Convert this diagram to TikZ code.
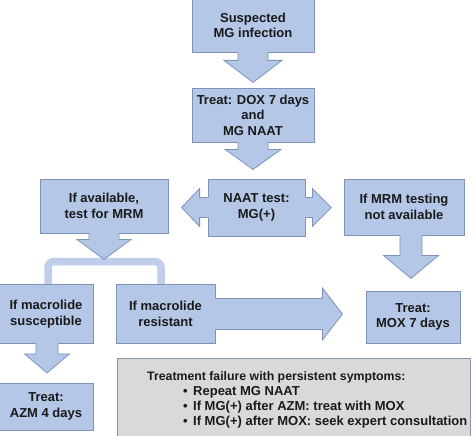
\documentclass[tikz,border=0pt]{standalone}
\usepackage{fontspec}
\setmainfont{Liberation Sans}
\usetikzlibrary{calc}
\definecolor{bfill}{HTML}{B4C7E7}
\definecolor{bline}{HTML}{7F93B8}
\definecolor{brk}{HTML}{BFCFEB}
\definecolor{gfill}{HTML}{D9D9D9}
\definecolor{gline}{HTML}{8497B0}
\definecolor{txt}{HTML}{1A1A1A}
\tikzset{
  box/.style={draw=bline, fill=bfill, line width=0.8pt, inner sep=0pt, align=center,
    font=\fontsize{13}{15.5}\selectfont\bfseries, text=txt},
  gtxt/.style={inner sep=0pt, anchor=west, font=\fontsize{13}{15}\selectfont\bfseries, text=txt},
  blkfill/.style={fill=bfill},
  blkline/.style={draw=bline, line width=0.8pt, line join=miter},
  pics/downarr/.style args={#1/#2/#3/#4}{code={
    \fill[blkfill] (-#1,-1.2) -- (-#1,#3) -- (-#2,#3) -- (0,{#3+#4}) -- (#2,#3) -- (#1,#3) -- (#1,-1.2) -- cycle;
    \draw[blkline] (-#1,0) -- (-#1,#3) -- (-#2,#3) -- (0,{#3+#4}) -- (#2,#3) -- (#1,#3) -- (#1,0);
  }},
  pics/rightarr/.style args={#1/#2/#3/#4}{code={
    \fill[blkfill] (-1.2,-#1) -- (#3,-#1) -- (#3,-#2) -- ({#3+#4},0) -- (#3,#2) -- (#3,#1) -- (-1.2,#1) -- cycle;
    \draw[blkline] (0,-#1) -- (#3,-#1) -- (#3,-#2) -- ({#3+#4},0) -- (#3,#2) -- (#3,#1) -- (0,#1);
  }},
  pics/leftarr/.style args={#1/#2/#3/#4}{code={
    \fill[blkfill] (1.2,-#1) -- (-#3,-#1) -- (-#3,-#2) -- ({-#3-#4},0) -- (-#3,#2) -- (-#3,#1) -- (1.2,#1) -- cycle;
    \draw[blkline] (0,-#1) -- (-#3,-#1) -- (-#3,-#2) -- ({-#3-#4},0) -- (-#3,#2) -- (-#3,#1) -- (0,#1);
  }},
}
\begin{document}
\begin{tikzpicture}[x=1pt,y=-1pt]
\useasboundingbox (0,0) rectangle (474,436);
\fill[white] (0,0) rectangle (474,436);

% top chain
\node[box, minimum width=122pt, minimum height=53pt] (b1) at (253,25.5) {Suspected\\MG infection};
\pic at (b1.south) {downarr=15/29/8/22};
\node[box, minimum width=122pt, minimum height=54pt] (b2) at (253,115) {Treat: DOX 7 days\\and\\MG NAAT};
\pic at (b2.south) {downarr=15/28/7/20};

% NAAT double arrow
\node[box, minimum width=97pt, minimum height=57pt] (naat) at (256.5,207.5) {NAAT test:\\MG(+)};
\pic at (naat.west) {leftarr=10/19/8/18};
\pic at (naat.east) {rightarr=10/19/7/19};

% left branch
\node[box, minimum width=128pt, minimum height=54pt] (avail) at (104,206) {If available,\\test for MRM};
\draw[brk, line width=7.5pt, rounded corners=6pt] (48,290) -- (48,261.5) -- (161,261.5) -- (161,290);
\pic at (avail.south) {downarr=15/27/6/20};

\node[box, minimum width=94pt, minimum height=59pt] (sus) at (46,314) {If macrolide\\susceptible};
\pic at ($(sus.south)+(1,0)$) {downarr=11/22.5/10/19};
\node[box, minimum width=94pt, minimum height=47pt] (azm) at (46,406.5) {Treat:\\AZM 4 days};

\node[box, minimum width=99pt, minimum height=59pt] (res) at (165.5,314) {If macrolide\\resistant};
\pic at (res.east) {rightarr=15.5/26/107/20};

% right branch
\node[box, minimum width=120pt, minimum height=56pt] (mrm) at (404,207) {If MRM testing\\not available};
\pic at ($(mrm.south)+(7,0)$) {downarr=11/27.5/20/23};
\node[box, minimum width=94pt, minimum height=52pt] (mox) at (413,317) {Treat:\\MOX 7 days};

% treatment failure box
\node[draw=gline, fill=gfill, line width=0.8pt, minimum width=353pt, minimum height=82pt, inner sep=0pt] (gray) at (293.5,399) {};
\node[gtxt, font=\fontsize{12.3}{15}\selectfont\bfseries] (g0) at (147,377) {Treatment failure with persistent symptoms:};
\node[gtxt] (g1b) at (183,392) {•};
\node[gtxt] (g1) at (193,392) {Repeat MG NAAT};
\node[gtxt] (g2b) at (183,407) {•};
\node[gtxt] (g2) at (193,407) {If MG(+) after AZM: treat with MOX};
\node[gtxt] (g3b) at (183,422) {•};
\node[gtxt] (g3) at (193,422) {If MG(+) after MOX: seek expert consultation};
\end{tikzpicture}
\end{document}
